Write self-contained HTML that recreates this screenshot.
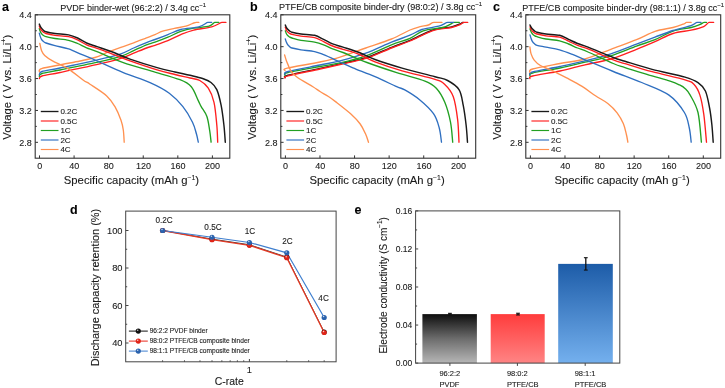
<!DOCTYPE html>
<html><head><meta charset="utf-8"><style>
html,body{margin:0;padding:0;background:#fff;}
svg{display:block;filter:blur(0.3px);}
text{font-family:"Liberation Sans",sans-serif;stroke:#1a1a1a;stroke-width:0.1px;}
</style></head><body>
<svg width="725" height="388" viewBox="0 0 725 388">
<rect width="725" height="388" fill="#fff"/>
<path d="M39.30 78.60 C39.75 78.17 38.55 77.02 42.00 76.00 C45.45 74.98 50.92 74.38 60.00 72.50 C69.08 70.62 86.37 67.05 96.50 64.70 C106.63 62.35 114.60 60.32 120.80 58.40 C127.00 56.48 129.42 54.93 133.70 53.20 C137.98 51.47 142.95 49.32 146.50 48.00 C150.05 46.68 151.43 46.53 155.00 45.30 C158.57 44.07 163.60 42.38 167.90 40.60 C172.20 38.82 176.50 36.35 180.80 34.60 C185.10 32.85 188.55 31.38 193.70 30.10 C198.85 28.82 206.98 28.18 211.70 26.90 C216.42 25.62 220.70 22.40 222.00 22.40 C223.30 22.40 224.60 22.40 225.90 22.40" fill="none" stroke="#ff1f1f" stroke-width="1.35" stroke-linejoin="round" stroke-linecap="round"/>
<path d="M39.30 76.30 C39.75 75.83 38.55 74.55 42.00 73.50 C45.45 72.45 50.92 71.85 60.00 70.00 C69.08 68.15 86.37 64.67 96.50 62.40 C106.63 60.13 114.60 58.37 120.80 56.40 C127.00 54.43 129.42 52.53 133.70 50.60 C137.98 48.67 142.95 46.20 146.50 44.80 C150.05 43.40 151.43 43.47 155.00 42.20 C158.57 40.93 163.60 39.00 167.90 37.20 C172.20 35.40 176.50 32.90 180.80 31.40 C185.10 29.90 188.98 29.07 193.70 28.20 C198.42 27.33 205.57 27.17 209.10 26.20 C212.63 25.23 213.60 22.40 214.90 22.40 C216.20 22.40 217.50 22.40 218.80 22.40" fill="none" stroke="#22a022" stroke-width="1.35" stroke-linejoin="round" stroke-linecap="round"/>
<path d="M39.30 74.80 C39.75 74.25 38.55 72.63 42.00 71.50 C45.45 70.37 50.92 69.90 60.00 68.00 C69.08 66.10 86.37 62.47 96.50 60.10 C106.63 57.73 114.60 55.82 120.80 53.80 C127.00 51.78 129.42 49.85 133.70 48.00 C137.98 46.15 142.95 44.12 146.50 42.70 C150.05 41.28 151.43 40.85 155.00 39.50 C158.57 38.15 163.60 36.27 167.90 34.60 C172.20 32.93 175.65 30.78 180.80 29.50 C185.95 28.22 194.30 28.08 198.80 26.90 C203.30 25.72 206.50 22.40 207.80 22.40 C209.10 22.40 210.40 22.40 211.70 22.40" fill="none" stroke="#2f6fc0" stroke-width="1.35" stroke-linejoin="round" stroke-linecap="round"/>
<path d="M39.30 71.70 C39.68 71.18 37.82 69.80 41.60 68.60 C45.38 67.40 55.60 65.77 62.00 64.50 C68.40 63.23 74.50 62.17 80.00 61.00 C85.50 59.83 90.35 58.97 95.00 57.50 C99.65 56.03 103.60 53.88 107.90 52.20 C112.20 50.52 116.50 48.95 120.80 47.40 C125.10 45.85 129.42 44.48 133.70 42.90 C137.98 41.32 142.95 39.28 146.50 37.90 C150.05 36.52 152.30 35.72 155.00 34.60 C157.70 33.48 159.48 32.23 162.70 31.20 C165.92 30.17 170.43 29.23 174.30 28.40 C178.17 27.57 182.67 27.10 185.90 26.20 C189.13 25.30 191.93 23.63 193.70 23.00 C195.47 22.37 195.73 22.40 196.50 22.40 C197.27 22.40 198.03 22.40 198.80 22.40" fill="none" stroke="#ff9150" stroke-width="1.35" stroke-linejoin="round" stroke-linecap="round"/>
<path d="M39.80 43.40 C40.10 44.63 40.78 48.78 41.60 50.80 C42.42 52.82 42.88 53.82 44.70 55.50 C46.52 57.18 48.63 58.72 52.50 60.90 C56.37 63.08 62.75 65.38 67.90 68.60 C73.05 71.82 79.72 77.60 83.40 80.20 C87.08 82.80 86.12 81.58 90.00 84.20 C93.88 86.82 102.52 92.13 106.70 95.90 C110.88 99.67 112.72 102.75 115.10 106.80 C117.48 110.85 119.63 116.33 121.00 120.20 C122.37 124.07 122.77 126.33 123.30 130.00 C123.83 133.67 124.05 140.17 124.20 142.20" fill="none" stroke="#ff9150" stroke-width="1.35" stroke-linejoin="round" stroke-linecap="round"/>
<path d="M39.30 33.10 C39.47 33.68 39.93 35.55 40.30 36.60 C40.67 37.65 40.97 38.58 41.50 39.40 C42.03 40.22 42.75 40.90 43.50 41.50 C44.25 42.10 44.08 42.30 46.00 43.00 C47.92 43.70 51.23 44.72 55.00 45.70 C58.77 46.68 64.08 47.40 68.60 48.90 C73.12 50.40 77.70 52.85 82.10 54.70 C86.50 56.55 88.13 57.02 95.00 60.00 C101.87 62.98 114.13 68.83 123.30 72.60 C132.47 76.37 142.33 79.17 150.00 82.60 C157.67 86.03 163.82 89.18 169.30 93.20 C174.78 97.22 179.03 101.87 182.90 106.70 C186.77 111.53 190.25 117.68 192.50 122.20 C194.75 126.72 195.43 130.47 196.40 133.80 C197.37 137.13 197.98 140.80 198.30 142.20" fill="none" stroke="#2f6fc0" stroke-width="1.35" stroke-linejoin="round" stroke-linecap="round"/>
<path d="M39.30 28.60 C39.47 29.10 39.93 30.77 40.30 31.60 C40.67 32.43 40.97 32.95 41.50 33.60 C42.03 34.25 42.75 34.98 43.50 35.50 C44.25 36.02 44.08 36.20 46.00 36.70 C47.92 37.20 51.23 37.90 55.00 38.50 C58.77 39.10 64.83 39.47 68.60 40.30 C72.37 41.13 74.60 42.25 77.60 43.50 C80.60 44.75 83.37 46.45 86.60 47.80 C89.83 49.15 90.88 49.12 97.00 51.60 C103.12 54.08 114.18 59.43 123.30 62.70 C132.42 65.97 142.25 68.37 151.70 71.20 C161.15 74.03 173.40 77.12 180.00 79.70 C186.60 82.28 188.23 83.17 191.30 86.70 C194.37 90.23 196.75 97.58 198.40 100.90 C200.05 104.22 199.78 104.00 201.20 106.60 C202.62 109.20 205.48 112.48 206.90 116.50 C208.32 120.52 209.00 126.42 209.70 130.70 C210.40 134.98 210.87 140.28 211.10 142.20" fill="none" stroke="#22a022" stroke-width="1.35" stroke-linejoin="round" stroke-linecap="round"/>
<path d="M39.30 25.90 C39.47 26.35 39.93 27.87 40.30 28.60 C40.67 29.33 40.97 29.70 41.50 30.30 C42.03 30.90 42.75 31.67 43.50 32.20 C44.25 32.73 44.08 32.98 46.00 33.50 C47.92 34.02 51.23 34.77 55.00 35.30 C58.77 35.83 64.83 35.93 68.60 36.70 C72.37 37.47 74.60 38.55 77.60 39.90 C80.60 41.25 83.37 43.38 86.60 44.80 C89.83 46.22 92.80 46.90 97.00 48.40 C101.20 49.90 106.30 51.72 111.80 53.80 C117.30 55.88 122.45 58.22 130.00 60.90 C137.55 63.58 149.60 67.63 157.10 69.90 C164.60 72.17 169.52 73.15 175.00 74.50 C180.48 75.85 185.87 77.00 190.00 78.00 C194.13 79.00 196.75 78.80 199.80 80.50 C202.85 82.20 205.93 84.57 208.30 88.20 C210.67 91.83 212.58 96.17 214.00 102.30 C215.42 108.43 216.18 118.35 216.80 125.00 C217.42 131.65 217.55 139.33 217.70 142.20" fill="none" stroke="#ff1f1f" stroke-width="1.35" stroke-linejoin="round" stroke-linecap="round"/>
<path d="M39.30 24.10 C39.47 24.47 39.93 25.63 40.30 26.30 C40.67 26.97 40.97 27.45 41.50 28.10 C42.03 28.75 42.75 29.60 43.50 30.20 C44.25 30.80 44.08 31.15 46.00 31.70 C47.92 32.25 51.23 32.97 55.00 33.50 C58.77 34.03 64.83 34.15 68.60 34.90 C72.37 35.65 74.60 36.65 77.60 38.00 C80.60 39.35 83.37 41.57 86.60 43.00 C89.83 44.43 92.80 45.13 97.00 46.60 C101.20 48.07 106.30 49.72 111.80 51.80 C117.30 53.88 122.45 56.47 130.00 59.10 C137.55 61.73 149.60 65.45 157.10 67.60 C164.60 69.75 169.52 70.72 175.00 72.00 C180.48 73.28 185.40 74.22 190.00 75.30 C194.60 76.38 199.10 77.30 202.60 78.50 C206.10 79.70 208.63 80.65 211.00 82.50 C213.37 84.35 215.12 85.82 216.80 89.60 C218.48 93.38 219.92 99.30 221.10 105.20 C222.28 111.10 223.20 118.83 223.90 125.00 C224.60 131.17 225.07 139.33 225.30 142.20" fill="none" stroke="#1a1a1a" stroke-width="1.45" stroke-linejoin="round" stroke-linecap="round"/>
<rect x="35.20" y="14.80" width="194.60" height="143.40" fill="none" stroke="#333" stroke-width="1.1"/>
<line x1="35.20" y1="14.80" x2="38.00" y2="14.80" stroke="#333" stroke-width="1"/>
<text x="31.80" y="18.00" font-size="9.00" text-anchor="end" font-weight="normal" fill="#1a1a1a" >4.4</text>
<line x1="35.20" y1="30.74" x2="36.80" y2="30.74" stroke="#333" stroke-width="1"/>
<line x1="35.20" y1="46.68" x2="38.00" y2="46.68" stroke="#333" stroke-width="1"/>
<text x="31.80" y="49.88" font-size="9.00" text-anchor="end" font-weight="normal" fill="#1a1a1a" >4.0</text>
<line x1="35.20" y1="62.62" x2="36.80" y2="62.62" stroke="#333" stroke-width="1"/>
<line x1="35.20" y1="78.56" x2="38.00" y2="78.56" stroke="#333" stroke-width="1"/>
<text x="31.80" y="81.76" font-size="9.00" text-anchor="end" font-weight="normal" fill="#1a1a1a" >3.6</text>
<line x1="35.20" y1="94.50" x2="36.80" y2="94.50" stroke="#333" stroke-width="1"/>
<line x1="35.20" y1="110.44" x2="38.00" y2="110.44" stroke="#333" stroke-width="1"/>
<text x="31.80" y="113.64" font-size="9.00" text-anchor="end" font-weight="normal" fill="#1a1a1a" >3.2</text>
<line x1="35.20" y1="126.38" x2="36.80" y2="126.38" stroke="#333" stroke-width="1"/>
<line x1="35.20" y1="142.32" x2="38.00" y2="142.32" stroke="#333" stroke-width="1"/>
<text x="31.80" y="145.52" font-size="9.00" text-anchor="end" font-weight="normal" fill="#1a1a1a" >2.8</text>
<line x1="39.50" y1="158.20" x2="39.50" y2="155.40" stroke="#333" stroke-width="1"/>
<text x="39.70" y="168.80" font-size="9.00" text-anchor="middle" font-weight="normal" fill="#1a1a1a" >0</text>
<line x1="74.08" y1="158.20" x2="74.08" y2="155.40" stroke="#333" stroke-width="1"/>
<text x="74.28" y="168.80" font-size="9.00" text-anchor="middle" font-weight="normal" fill="#1a1a1a" >40</text>
<line x1="108.66" y1="158.20" x2="108.66" y2="155.40" stroke="#333" stroke-width="1"/>
<text x="108.86" y="168.80" font-size="9.00" text-anchor="middle" font-weight="normal" fill="#1a1a1a" >80</text>
<line x1="143.24" y1="158.20" x2="143.24" y2="155.40" stroke="#333" stroke-width="1"/>
<text x="143.44" y="168.80" font-size="9.00" text-anchor="middle" font-weight="normal" fill="#1a1a1a" >120</text>
<line x1="177.82" y1="158.20" x2="177.82" y2="155.40" stroke="#333" stroke-width="1"/>
<text x="178.02" y="168.80" font-size="9.00" text-anchor="middle" font-weight="normal" fill="#1a1a1a" >160</text>
<line x1="212.40" y1="158.20" x2="212.40" y2="155.40" stroke="#333" stroke-width="1"/>
<text x="212.60" y="168.80" font-size="9.00" text-anchor="middle" font-weight="normal" fill="#1a1a1a" >200</text>
<text x="63.80" y="184.40" font-size="10.80" text-anchor="start" font-weight="normal" fill="#1a1a1a"  textLength="135.30" lengthAdjust="spacingAndGlyphs">Specific capacity (mAh g<tspan dy="-4.3" font-size="6.6">&#8722;1</tspan><tspan dy="4.3">)</tspan></text>
<text transform="translate(10.50,87.30) rotate(-90)" font-size="10.2" text-anchor="middle" fill="#1a1a1a" textLength="105" lengthAdjust="spacingAndGlyphs">Voltage ( V vs. Li/Li<tspan dy="-4.8" font-size="6.4">+</tspan><tspan dy="4.8">)</tspan></text>
<text x="60.30" y="11.20" font-size="8.6" fill="#1a1a1a" textLength="145.80" lengthAdjust="spacingAndGlyphs">PVDF binder-wet (96:2:2) / 3.4g cc<tspan dy="-4.0" font-size="5.6">&#8722;1</tspan></text>
<text x="2.00" y="10.60" font-size="12.50" text-anchor="start" font-weight="bold" fill="#000" >a</text>
<line x1="40.80" y1="111.50" x2="58.50" y2="111.50" stroke="#1a1a1a" stroke-width="1.35"/>
<text x="60.40" y="114.30" font-size="8.00" text-anchor="start" font-weight="normal" fill="#1a1a1a" >0.2C</text>
<line x1="40.80" y1="121.00" x2="58.50" y2="121.00" stroke="#ff1f1f" stroke-width="1.15"/>
<text x="60.40" y="123.80" font-size="8.00" text-anchor="start" font-weight="normal" fill="#1a1a1a" >0.5C</text>
<line x1="40.80" y1="130.50" x2="58.50" y2="130.50" stroke="#22a022" stroke-width="1.15"/>
<text x="60.40" y="133.30" font-size="8.00" text-anchor="start" font-weight="normal" fill="#1a1a1a" >1C</text>
<line x1="40.80" y1="140.00" x2="58.50" y2="140.00" stroke="#2f6fc0" stroke-width="1.15"/>
<text x="60.40" y="142.80" font-size="8.00" text-anchor="start" font-weight="normal" fill="#1a1a1a" >2C</text>
<line x1="40.80" y1="149.50" x2="58.50" y2="149.50" stroke="#ff9150" stroke-width="1.15"/>
<text x="60.40" y="152.30" font-size="8.00" text-anchor="start" font-weight="normal" fill="#1a1a1a" >4C</text>
<path d="M285.00 77.40 C285.50 77.03 282.17 76.70 288.00 75.20 C293.83 73.70 311.33 70.28 320.00 68.40 C328.67 66.52 332.37 65.67 340.00 63.90 C347.63 62.13 357.22 60.55 365.80 57.80 C374.38 55.05 384.13 50.30 391.50 47.40 C398.87 44.50 403.22 43.27 410.00 40.40 C416.78 37.53 425.28 32.45 432.20 30.20 C439.12 27.95 446.77 27.98 451.50 26.90 C456.23 25.82 458.75 24.45 460.60 23.70 C462.45 22.95 462.37 22.40 462.60 22.40 C462.83 22.40 463.07 22.40 463.30 22.40" fill="none" stroke="#1a1a1a" stroke-width="1.45" stroke-linejoin="round" stroke-linecap="round"/>
<path d="M285.00 78.00 C285.50 77.63 282.17 77.30 288.00 75.80 C293.83 74.30 311.33 70.88 320.00 69.00 C328.67 67.12 332.37 66.27 340.00 64.50 C347.63 62.73 357.22 61.15 365.80 58.40 C374.38 55.65 384.13 50.90 391.50 48.00 C398.87 45.10 403.22 43.87 410.00 41.00 C416.78 38.13 425.28 33.05 432.20 30.80 C439.12 28.55 446.77 28.58 451.50 27.50 C456.23 26.42 458.55 25.15 460.60 24.30 C462.65 23.45 462.50 22.40 463.80 22.40 C465.10 22.40 466.40 22.40 467.70 22.40" fill="none" stroke="#ff1f1f" stroke-width="1.35" stroke-linejoin="round" stroke-linecap="round"/>
<path d="M285.00 75.30 C285.50 74.83 282.17 73.97 288.00 72.50 C293.83 71.03 311.33 68.10 320.00 66.50 C328.67 64.90 332.37 64.68 340.00 62.90 C347.63 61.12 357.22 58.82 365.80 55.80 C374.38 52.78 384.13 47.70 391.50 44.80 C398.87 41.90 404.72 40.73 410.00 38.40 C415.28 36.07 417.78 32.62 423.20 30.80 C428.62 28.98 437.98 28.58 442.50 27.50 C447.02 26.42 448.37 25.15 450.30 24.30 C452.23 23.45 452.37 22.40 454.10 22.40 C455.83 22.40 457.57 22.40 459.30 22.40" fill="none" stroke="#22a022" stroke-width="1.35" stroke-linejoin="round" stroke-linecap="round"/>
<path d="M285.00 74.20 C285.52 73.75 282.27 73.03 288.10 71.50 C293.93 69.97 311.35 66.77 320.00 65.00 C328.65 63.23 332.37 62.87 340.00 60.90 C347.63 58.93 357.22 56.32 365.80 53.20 C374.38 50.08 384.13 45.20 391.50 42.20 C398.87 39.20 404.93 37.32 410.00 35.20 C415.07 33.08 417.12 31.00 421.90 29.50 C426.68 28.00 434.40 27.38 438.70 26.20 C443.00 25.02 445.77 22.40 447.70 22.40 C449.63 22.40 451.57 22.40 453.50 22.40" fill="none" stroke="#2f6fc0" stroke-width="1.35" stroke-linejoin="round" stroke-linecap="round"/>
<path d="M285.00 70.50 C285.37 70.12 281.37 69.62 287.20 68.20 C293.03 66.78 311.20 63.85 320.00 62.00 C328.80 60.15 332.37 59.43 340.00 57.10 C347.63 54.77 357.22 51.02 365.80 48.00 C374.38 44.98 384.13 42.00 391.50 39.00 C398.87 36.00 405.37 32.02 410.00 30.00 C414.63 27.98 416.23 27.73 419.30 26.90 C422.37 26.07 425.93 25.75 428.40 25.00 C430.87 24.25 431.50 22.40 434.10 22.40 C436.70 22.40 439.30 22.40 441.90 22.40" fill="none" stroke="#ff9150" stroke-width="1.35" stroke-linejoin="round" stroke-linecap="round"/>
<path d="M284.60 55.00 C284.88 55.92 285.70 58.82 286.30 60.50 C286.90 62.18 287.37 63.27 288.20 65.10 C289.03 66.93 289.75 69.43 291.30 71.50 C292.85 73.57 293.90 74.97 297.50 77.50 C301.10 80.03 309.15 84.37 312.90 86.70 C316.65 89.03 317.42 89.87 320.00 91.50 C322.58 93.13 325.82 94.82 328.40 96.50 C330.98 98.18 331.75 98.68 335.50 101.60 C339.25 104.52 346.78 110.27 350.90 114.00 C355.02 117.73 357.75 120.67 360.20 124.00 C362.65 127.33 364.22 130.95 365.60 134.00 C366.98 137.05 368.02 140.92 368.50 142.30" fill="none" stroke="#ff9150" stroke-width="1.35" stroke-linejoin="round" stroke-linecap="round"/>
<path d="M285.30 39.00 C285.47 39.50 285.93 41.10 286.30 42.00 C286.67 42.90 286.97 43.65 287.50 44.40 C288.03 45.15 288.75 45.90 289.50 46.50 C290.25 47.10 290.08 47.45 292.00 48.00 C293.92 48.55 297.23 49.20 301.00 49.80 C304.77 50.40 310.83 50.78 314.60 51.60 C318.37 52.42 319.37 52.97 323.60 54.70 C327.83 56.43 335.12 59.82 340.00 62.00 C344.88 64.18 347.07 65.35 352.90 67.80 C358.73 70.25 367.70 73.55 375.00 76.70 C382.30 79.85 391.73 84.50 396.70 86.70 C401.67 88.90 401.03 87.77 404.80 89.90 C408.57 92.03 414.52 95.53 419.30 99.50 C424.08 103.47 430.18 108.98 433.50 113.70 C436.82 118.42 437.87 123.05 439.20 127.80 C440.53 132.55 441.12 139.80 441.50 142.20" fill="none" stroke="#2f6fc0" stroke-width="1.35" stroke-linejoin="round" stroke-linecap="round"/>
<path d="M285.30 30.80 C285.47 31.25 285.93 32.75 286.30 33.50 C286.67 34.25 286.97 34.72 287.50 35.30 C288.03 35.88 288.75 36.55 289.50 37.00 C290.25 37.45 290.08 37.45 292.00 38.00 C293.92 38.55 297.23 39.62 301.00 40.30 C304.77 40.98 310.83 41.35 314.60 42.10 C318.37 42.85 320.60 43.68 323.60 44.80 C326.60 45.92 329.37 47.52 332.60 48.80 C335.83 50.08 337.27 50.22 343.00 52.50 C348.73 54.78 358.05 59.15 367.00 62.50 C375.95 65.85 387.03 69.50 396.70 72.60 C406.37 75.70 418.40 78.50 425.00 81.10 C431.60 83.70 433.00 84.67 436.30 88.20 C439.60 91.73 442.43 96.63 444.80 102.30 C447.17 107.97 449.18 115.55 450.50 122.20 C451.82 128.85 452.33 138.87 452.70 142.20" fill="none" stroke="#22a022" stroke-width="1.35" stroke-linejoin="round" stroke-linecap="round"/>
<path d="M285.30 27.20 C285.47 27.67 285.93 29.23 286.30 30.00 C286.67 30.77 286.97 31.25 287.50 31.80 C288.03 32.35 288.75 32.87 289.50 33.30 C290.25 33.73 290.08 33.92 292.00 34.40 C293.92 34.88 297.23 35.67 301.00 36.20 C304.77 36.73 310.83 36.68 314.60 37.60 C318.37 38.52 320.60 40.30 323.60 41.70 C326.60 43.10 329.37 44.73 332.60 46.00 C335.83 47.27 338.55 47.88 343.00 49.30 C347.45 50.72 353.97 52.42 359.30 54.50 C364.63 56.58 367.87 59.08 375.00 61.80 C382.13 64.52 392.10 67.87 402.10 70.80 C412.10 73.73 427.88 77.12 435.00 79.40 C442.12 81.68 441.75 81.62 444.80 84.50 C447.85 87.38 451.17 90.90 453.30 96.70 C455.43 102.50 456.65 111.72 457.60 119.30 C458.55 126.88 458.77 138.38 459.00 142.20" fill="none" stroke="#ff1f1f" stroke-width="1.35" stroke-linejoin="round" stroke-linecap="round"/>
<path d="M285.30 25.00 C285.47 25.38 285.93 26.63 286.30 27.30 C286.67 27.97 286.97 28.40 287.50 29.00 C288.03 29.60 288.75 30.37 289.50 30.90 C290.25 31.43 290.08 31.68 292.00 32.20 C293.92 32.72 297.23 33.48 301.00 34.00 C304.77 34.52 310.83 34.40 314.60 35.30 C318.37 36.20 320.60 37.97 323.60 39.40 C326.60 40.83 329.37 42.62 332.60 43.90 C335.83 45.18 338.55 45.67 343.00 47.10 C347.45 48.53 353.97 50.43 359.30 52.50 C364.63 54.57 367.87 56.90 375.00 59.50 C382.13 62.10 392.10 65.23 402.10 68.10 C412.10 70.97 427.42 74.63 435.00 76.70 C442.58 78.77 443.60 78.35 447.60 80.50 C451.60 82.65 456.40 85.48 459.00 89.60 C461.60 93.72 462.02 99.30 463.20 105.20 C464.38 111.10 465.38 118.83 466.10 125.00 C466.82 131.17 467.27 139.33 467.50 142.20" fill="none" stroke="#1a1a1a" stroke-width="1.45" stroke-linejoin="round" stroke-linecap="round"/>
<rect x="280.80" y="14.80" width="194.90" height="143.40" fill="none" stroke="#333" stroke-width="1.1"/>
<line x1="280.80" y1="14.80" x2="283.60" y2="14.80" stroke="#333" stroke-width="1"/>
<text x="277.40" y="18.00" font-size="9.00" text-anchor="end" font-weight="normal" fill="#1a1a1a" >4.4</text>
<line x1="280.80" y1="30.74" x2="282.40" y2="30.74" stroke="#333" stroke-width="1"/>
<line x1="280.80" y1="46.68" x2="283.60" y2="46.68" stroke="#333" stroke-width="1"/>
<text x="277.40" y="49.88" font-size="9.00" text-anchor="end" font-weight="normal" fill="#1a1a1a" >4.0</text>
<line x1="280.80" y1="62.62" x2="282.40" y2="62.62" stroke="#333" stroke-width="1"/>
<line x1="280.80" y1="78.56" x2="283.60" y2="78.56" stroke="#333" stroke-width="1"/>
<text x="277.40" y="81.76" font-size="9.00" text-anchor="end" font-weight="normal" fill="#1a1a1a" >3.6</text>
<line x1="280.80" y1="94.50" x2="282.40" y2="94.50" stroke="#333" stroke-width="1"/>
<line x1="280.80" y1="110.44" x2="283.60" y2="110.44" stroke="#333" stroke-width="1"/>
<text x="277.40" y="113.64" font-size="9.00" text-anchor="end" font-weight="normal" fill="#1a1a1a" >3.2</text>
<line x1="280.80" y1="126.38" x2="282.40" y2="126.38" stroke="#333" stroke-width="1"/>
<line x1="280.80" y1="142.32" x2="283.60" y2="142.32" stroke="#333" stroke-width="1"/>
<text x="277.40" y="145.52" font-size="9.00" text-anchor="end" font-weight="normal" fill="#1a1a1a" >2.8</text>
<line x1="285.40" y1="158.20" x2="285.40" y2="155.40" stroke="#333" stroke-width="1"/>
<text x="285.60" y="168.80" font-size="9.00" text-anchor="middle" font-weight="normal" fill="#1a1a1a" >0</text>
<line x1="319.98" y1="158.20" x2="319.98" y2="155.40" stroke="#333" stroke-width="1"/>
<text x="320.18" y="168.80" font-size="9.00" text-anchor="middle" font-weight="normal" fill="#1a1a1a" >40</text>
<line x1="354.56" y1="158.20" x2="354.56" y2="155.40" stroke="#333" stroke-width="1"/>
<text x="354.76" y="168.80" font-size="9.00" text-anchor="middle" font-weight="normal" fill="#1a1a1a" >80</text>
<line x1="389.14" y1="158.20" x2="389.14" y2="155.40" stroke="#333" stroke-width="1"/>
<text x="389.34" y="168.80" font-size="9.00" text-anchor="middle" font-weight="normal" fill="#1a1a1a" >120</text>
<line x1="423.72" y1="158.20" x2="423.72" y2="155.40" stroke="#333" stroke-width="1"/>
<text x="423.92" y="168.80" font-size="9.00" text-anchor="middle" font-weight="normal" fill="#1a1a1a" >160</text>
<line x1="458.30" y1="158.20" x2="458.30" y2="155.40" stroke="#333" stroke-width="1"/>
<text x="458.50" y="168.80" font-size="9.00" text-anchor="middle" font-weight="normal" fill="#1a1a1a" >200</text>
<text x="309.40" y="184.40" font-size="10.80" text-anchor="start" font-weight="normal" fill="#1a1a1a"  textLength="135.30" lengthAdjust="spacingAndGlyphs">Specific capacity (mAh g<tspan dy="-4.3" font-size="6.6">&#8722;1</tspan><tspan dy="4.3">)</tspan></text>
<text transform="translate(256.10,87.30) rotate(-90)" font-size="10.2" text-anchor="middle" fill="#1a1a1a" textLength="105" lengthAdjust="spacingAndGlyphs">Voltage ( V vs. Li/Li<tspan dy="-4.8" font-size="6.4">+</tspan><tspan dy="4.8">)</tspan></text>
<text x="279.00" y="9.80" font-size="8.6" fill="#1a1a1a" textLength="203.00" lengthAdjust="spacingAndGlyphs">PTFE/CB composite binder-dry (98:0:2) / 3.8g cc<tspan dy="-4.0" font-size="5.6">&#8722;1</tspan></text>
<text x="250.00" y="10.60" font-size="12.50" text-anchor="start" font-weight="bold" fill="#000" >b</text>
<line x1="286.40" y1="111.50" x2="304.10" y2="111.50" stroke="#1a1a1a" stroke-width="1.35"/>
<text x="306.00" y="114.30" font-size="8.00" text-anchor="start" font-weight="normal" fill="#1a1a1a" >0.2C</text>
<line x1="286.40" y1="121.00" x2="304.10" y2="121.00" stroke="#ff1f1f" stroke-width="1.15"/>
<text x="306.00" y="123.80" font-size="8.00" text-anchor="start" font-weight="normal" fill="#1a1a1a" >0.5C</text>
<line x1="286.40" y1="130.50" x2="304.10" y2="130.50" stroke="#22a022" stroke-width="1.15"/>
<text x="306.00" y="133.30" font-size="8.00" text-anchor="start" font-weight="normal" fill="#1a1a1a" >1C</text>
<line x1="286.40" y1="140.00" x2="304.10" y2="140.00" stroke="#2f6fc0" stroke-width="1.15"/>
<text x="306.00" y="142.80" font-size="8.00" text-anchor="start" font-weight="normal" fill="#1a1a1a" >2C</text>
<line x1="286.40" y1="149.50" x2="304.10" y2="149.50" stroke="#ff9150" stroke-width="1.15"/>
<text x="306.00" y="152.30" font-size="8.00" text-anchor="start" font-weight="normal" fill="#1a1a1a" >4C</text>
<path d="M529.90 78.60 C530.35 78.17 527.58 77.27 532.60 76.00 C537.62 74.73 551.27 72.87 560.00 71.00 C568.73 69.13 576.53 66.80 585.00 64.80 C593.47 62.80 602.22 61.58 610.80 59.00 C619.38 56.42 629.13 52.20 636.50 49.30 C643.87 46.40 648.92 44.23 655.00 41.60 C661.08 38.97 666.98 35.40 673.00 33.50 C679.02 31.60 685.98 31.35 691.10 30.20 C696.22 29.05 700.70 27.90 703.70 26.60 C706.70 25.30 707.60 22.40 709.10 22.40 C710.60 22.40 712.10 22.40 713.60 22.40" fill="none" stroke="#ff1f1f" stroke-width="1.35" stroke-linejoin="round" stroke-linecap="round"/>
<path d="M530.00 75.90 C530.43 75.42 527.60 74.32 532.60 73.00 C537.60 71.68 551.27 69.80 560.00 68.00 C568.73 66.20 576.53 64.23 585.00 62.20 C593.47 60.17 602.22 58.48 610.80 55.80 C619.38 53.12 629.13 48.78 636.50 46.10 C643.87 43.42 648.92 42.20 655.00 39.70 C661.08 37.20 666.98 33.13 673.00 31.10 C679.02 29.07 686.43 28.68 691.10 27.50 C695.77 26.32 698.85 24.85 701.00 24.00 C703.15 23.15 703.20 22.40 704.00 22.40 C704.80 22.40 705.60 22.40 706.40 22.40" fill="none" stroke="#22a022" stroke-width="1.35" stroke-linejoin="round" stroke-linecap="round"/>
<path d="M529.90 74.80 C530.35 74.33 527.58 73.38 532.60 72.00 C537.62 70.62 551.27 68.35 560.00 66.50 C568.73 64.65 576.53 63.02 585.00 60.90 C593.47 58.78 602.22 56.58 610.80 53.80 C619.38 51.02 629.13 46.98 636.50 44.20 C643.87 41.42 648.92 39.38 655.00 37.10 C661.08 34.82 667.00 32.40 673.00 30.50 C679.00 28.60 687.00 27.05 691.00 25.70 C695.00 24.35 695.67 22.40 697.00 22.40 C698.33 22.40 699.67 22.40 701.00 22.40" fill="none" stroke="#2f6fc0" stroke-width="1.35" stroke-linejoin="round" stroke-linecap="round"/>
<path d="M529.90 72.50 C530.35 71.92 527.58 70.50 532.60 69.00 C537.62 67.50 551.27 65.17 560.00 63.50 C568.73 61.83 576.53 61.37 585.00 59.00 C593.47 56.63 602.22 52.52 610.80 49.30 C619.38 46.08 629.13 42.70 636.50 39.70 C643.87 36.70 648.92 33.33 655.00 31.30 C661.08 29.27 668.18 28.73 673.00 27.50 C677.82 26.27 681.63 24.75 683.90 23.90 C686.17 23.05 685.10 22.40 686.60 22.40 C688.10 22.40 689.60 22.40 691.10 22.40" fill="none" stroke="#ff9150" stroke-width="1.35" stroke-linejoin="round" stroke-linecap="round"/>
<path d="M529.90 47.00 C530.10 48.15 530.38 51.72 531.10 53.90 C531.82 56.08 532.65 58.17 534.20 60.10 C535.75 62.03 537.57 63.83 540.40 65.50 C543.23 67.17 546.83 68.03 551.20 70.10 C555.57 72.17 561.45 75.18 566.60 77.90 C571.75 80.62 577.28 83.42 582.10 86.40 C586.92 89.38 591.22 92.95 595.50 95.80 C599.78 98.65 604.20 100.67 607.80 103.50 C611.40 106.33 614.52 109.45 617.10 112.80 C619.68 116.15 621.75 119.98 623.30 123.60 C624.85 127.22 625.63 131.40 626.40 134.50 C627.17 137.60 627.65 140.92 627.90 142.20" fill="none" stroke="#ff9150" stroke-width="1.35" stroke-linejoin="round" stroke-linecap="round"/>
<path d="M530.00 34.90 C530.20 35.55 530.78 37.67 531.20 38.80 C531.62 39.93 531.95 40.87 532.50 41.70 C533.05 42.53 533.75 43.20 534.50 43.80 C535.25 44.40 535.08 44.75 537.00 45.30 C538.92 45.85 542.23 46.35 546.00 47.10 C549.77 47.85 555.08 48.53 559.60 49.80 C564.12 51.07 568.87 53.03 573.10 54.70 C577.33 56.37 578.30 57.00 585.00 59.80 C591.70 62.60 603.85 67.72 613.30 71.50 C622.75 75.28 632.42 78.57 641.70 82.50 C650.98 86.43 661.88 90.10 669.00 95.10 C676.12 100.10 681.02 107.02 684.40 112.50 C687.78 117.98 688.17 123.05 689.30 128.00 C690.43 132.95 690.88 139.83 691.20 142.20" fill="none" stroke="#2f6fc0" stroke-width="1.35" stroke-linejoin="round" stroke-linecap="round"/>
<path d="M530.00 29.00 C530.20 29.50 530.78 31.17 531.20 32.00 C531.62 32.83 531.95 33.38 532.50 34.00 C533.05 34.62 533.75 35.25 534.50 35.70 C535.25 36.15 535.08 36.15 537.00 36.70 C538.92 37.25 542.23 38.32 546.00 39.00 C549.77 39.68 555.83 39.97 559.60 40.80 C563.37 41.63 565.60 42.80 568.60 44.00 C571.60 45.20 574.37 46.67 577.60 48.00 C580.83 49.33 582.05 49.42 588.00 52.00 C593.95 54.58 607.13 60.90 613.30 63.50 C619.47 66.10 618.53 65.55 625.00 67.60 C631.47 69.65 644.58 73.53 652.10 75.80 C659.62 78.07 665.58 79.70 670.10 81.20 C674.62 82.70 676.72 83.60 679.20 84.80 C681.68 86.00 683.17 86.68 685.00 88.40 C686.83 90.12 688.03 91.08 690.20 95.10 C692.37 99.12 696.13 104.65 698.00 112.50 C699.87 120.35 700.83 137.25 701.40 142.20" fill="none" stroke="#22a022" stroke-width="1.35" stroke-linejoin="round" stroke-linecap="round"/>
<path d="M530.00 26.80 C530.20 27.25 530.78 28.75 531.20 29.50 C531.62 30.25 531.95 30.73 532.50 31.30 C533.05 31.87 533.75 32.45 534.50 32.90 C535.25 33.35 535.08 33.52 537.00 34.00 C538.92 34.48 542.23 35.28 546.00 35.80 C549.77 36.32 555.83 36.20 559.60 37.10 C563.37 38.00 565.60 39.82 568.60 41.20 C571.60 42.58 574.37 44.12 577.60 45.40 C580.83 46.68 582.05 46.50 588.00 48.90 C593.95 51.30 607.13 57.35 613.30 59.80 C619.47 62.25 618.53 61.62 625.00 63.60 C631.47 65.58 642.10 69.00 652.10 71.70 C662.10 74.40 678.00 77.67 685.00 79.80 C692.00 81.93 691.62 81.95 694.10 84.50 C696.58 87.05 698.28 90.12 699.90 95.10 C701.52 100.08 702.70 106.55 703.80 114.40 C704.90 122.25 706.05 137.57 706.50 142.20" fill="none" stroke="#ff1f1f" stroke-width="1.35" stroke-linejoin="round" stroke-linecap="round"/>
<path d="M530.00 25.00 C530.20 25.38 530.78 26.63 531.20 27.30 C531.62 27.97 531.95 28.40 532.50 29.00 C533.05 29.60 533.75 30.37 534.50 30.90 C535.25 31.43 535.08 31.68 537.00 32.20 C538.92 32.72 542.23 33.48 546.00 34.00 C549.77 34.52 555.83 34.40 559.60 35.30 C563.37 36.20 565.60 38.03 568.60 39.40 C571.60 40.77 574.37 42.22 577.60 43.50 C580.83 44.78 582.05 44.77 588.00 47.10 C593.95 49.43 607.13 55.13 613.30 57.50 C619.47 59.87 618.53 59.32 625.00 61.30 C631.47 63.28 642.10 66.77 652.10 69.40 C662.10 72.03 677.35 74.90 685.00 77.10 C692.65 79.30 694.60 80.28 698.00 82.60 C701.40 84.92 703.47 86.77 705.40 91.00 C707.33 95.23 708.52 102.33 709.60 108.00 C710.68 113.67 711.30 119.30 711.90 125.00 C712.50 130.70 712.98 139.33 713.20 142.20" fill="none" stroke="#1a1a1a" stroke-width="1.45" stroke-linejoin="round" stroke-linecap="round"/>
<rect x="525.80" y="14.80" width="194.90" height="143.40" fill="none" stroke="#333" stroke-width="1.1"/>
<line x1="525.80" y1="14.80" x2="528.60" y2="14.80" stroke="#333" stroke-width="1"/>
<text x="522.40" y="18.00" font-size="9.00" text-anchor="end" font-weight="normal" fill="#1a1a1a" >4.4</text>
<line x1="525.80" y1="30.74" x2="527.40" y2="30.74" stroke="#333" stroke-width="1"/>
<line x1="525.80" y1="46.68" x2="528.60" y2="46.68" stroke="#333" stroke-width="1"/>
<text x="522.40" y="49.88" font-size="9.00" text-anchor="end" font-weight="normal" fill="#1a1a1a" >4.0</text>
<line x1="525.80" y1="62.62" x2="527.40" y2="62.62" stroke="#333" stroke-width="1"/>
<line x1="525.80" y1="78.56" x2="528.60" y2="78.56" stroke="#333" stroke-width="1"/>
<text x="522.40" y="81.76" font-size="9.00" text-anchor="end" font-weight="normal" fill="#1a1a1a" >3.6</text>
<line x1="525.80" y1="94.50" x2="527.40" y2="94.50" stroke="#333" stroke-width="1"/>
<line x1="525.80" y1="110.44" x2="528.60" y2="110.44" stroke="#333" stroke-width="1"/>
<text x="522.40" y="113.64" font-size="9.00" text-anchor="end" font-weight="normal" fill="#1a1a1a" >3.2</text>
<line x1="525.80" y1="126.38" x2="527.40" y2="126.38" stroke="#333" stroke-width="1"/>
<line x1="525.80" y1="142.32" x2="528.60" y2="142.32" stroke="#333" stroke-width="1"/>
<text x="522.40" y="145.52" font-size="9.00" text-anchor="end" font-weight="normal" fill="#1a1a1a" >2.8</text>
<line x1="530.40" y1="158.20" x2="530.40" y2="155.40" stroke="#333" stroke-width="1"/>
<text x="530.60" y="168.80" font-size="9.00" text-anchor="middle" font-weight="normal" fill="#1a1a1a" >0</text>
<line x1="564.98" y1="158.20" x2="564.98" y2="155.40" stroke="#333" stroke-width="1"/>
<text x="565.18" y="168.80" font-size="9.00" text-anchor="middle" font-weight="normal" fill="#1a1a1a" >40</text>
<line x1="599.56" y1="158.20" x2="599.56" y2="155.40" stroke="#333" stroke-width="1"/>
<text x="599.76" y="168.80" font-size="9.00" text-anchor="middle" font-weight="normal" fill="#1a1a1a" >80</text>
<line x1="634.14" y1="158.20" x2="634.14" y2="155.40" stroke="#333" stroke-width="1"/>
<text x="634.34" y="168.80" font-size="9.00" text-anchor="middle" font-weight="normal" fill="#1a1a1a" >120</text>
<line x1="668.72" y1="158.20" x2="668.72" y2="155.40" stroke="#333" stroke-width="1"/>
<text x="668.92" y="168.80" font-size="9.00" text-anchor="middle" font-weight="normal" fill="#1a1a1a" >160</text>
<line x1="703.30" y1="158.20" x2="703.30" y2="155.40" stroke="#333" stroke-width="1"/>
<text x="703.50" y="168.80" font-size="9.00" text-anchor="middle" font-weight="normal" fill="#1a1a1a" >200</text>
<text x="554.40" y="184.40" font-size="10.80" text-anchor="start" font-weight="normal" fill="#1a1a1a"  textLength="135.30" lengthAdjust="spacingAndGlyphs">Specific capacity (mAh g<tspan dy="-4.3" font-size="6.6">&#8722;1</tspan><tspan dy="4.3">)</tspan></text>
<text transform="translate(501.10,87.30) rotate(-90)" font-size="10.2" text-anchor="middle" fill="#1a1a1a" textLength="105" lengthAdjust="spacingAndGlyphs">Voltage ( V vs. Li/Li<tspan dy="-4.8" font-size="6.4">+</tspan><tspan dy="4.8">)</tspan></text>
<text x="522.30" y="10.60" font-size="8.6" fill="#1a1a1a" textLength="201.80" lengthAdjust="spacingAndGlyphs">PTFE/CB composite binder-dry (98:1:1) / 3.8g cc<tspan dy="-4.0" font-size="5.6">&#8722;1</tspan></text>
<text x="493.00" y="10.60" font-size="12.50" text-anchor="start" font-weight="bold" fill="#000" >c</text>
<line x1="531.40" y1="111.50" x2="549.10" y2="111.50" stroke="#1a1a1a" stroke-width="1.35"/>
<text x="551.00" y="114.30" font-size="8.00" text-anchor="start" font-weight="normal" fill="#1a1a1a" >0.2C</text>
<line x1="531.40" y1="121.00" x2="549.10" y2="121.00" stroke="#ff1f1f" stroke-width="1.15"/>
<text x="551.00" y="123.80" font-size="8.00" text-anchor="start" font-weight="normal" fill="#1a1a1a" >0.5C</text>
<line x1="531.40" y1="130.50" x2="549.10" y2="130.50" stroke="#22a022" stroke-width="1.15"/>
<text x="551.00" y="133.30" font-size="8.00" text-anchor="start" font-weight="normal" fill="#1a1a1a" >1C</text>
<line x1="531.40" y1="140.00" x2="549.10" y2="140.00" stroke="#2f6fc0" stroke-width="1.15"/>
<text x="551.00" y="142.80" font-size="8.00" text-anchor="start" font-weight="normal" fill="#1a1a1a" >2C</text>
<line x1="531.40" y1="149.50" x2="549.10" y2="149.50" stroke="#ff9150" stroke-width="1.15"/>
<text x="551.00" y="152.30" font-size="8.00" text-anchor="start" font-weight="normal" fill="#1a1a1a" >4C</text>
<rect x="125.70" y="211.10" width="210.40" height="150.70" fill="none" stroke="#444" stroke-width="1"/>
<line x1="125.70" y1="343.00" x2="128.50" y2="343.00" stroke="#444" stroke-width="1"/>
<text x="122.50" y="346.30" font-size="9.30" text-anchor="end" font-weight="normal" fill="#1a1a1a" >40</text>
<line x1="125.70" y1="324.25" x2="127.20" y2="324.25" stroke="#444" stroke-width="1"/>
<line x1="125.70" y1="305.50" x2="128.50" y2="305.50" stroke="#444" stroke-width="1"/>
<text x="122.50" y="308.80" font-size="9.30" text-anchor="end" font-weight="normal" fill="#1a1a1a" >60</text>
<line x1="125.70" y1="286.75" x2="127.20" y2="286.75" stroke="#444" stroke-width="1"/>
<line x1="125.70" y1="268.00" x2="128.50" y2="268.00" stroke="#444" stroke-width="1"/>
<text x="122.50" y="271.30" font-size="9.30" text-anchor="end" font-weight="normal" fill="#1a1a1a" >80</text>
<line x1="125.70" y1="249.25" x2="127.20" y2="249.25" stroke="#444" stroke-width="1"/>
<line x1="125.70" y1="230.50" x2="128.50" y2="230.50" stroke="#444" stroke-width="1"/>
<text x="122.50" y="233.80" font-size="9.30" text-anchor="end" font-weight="normal" fill="#1a1a1a" >100</text>
<line x1="162.59" y1="361.80" x2="162.59" y2="360.30" stroke="#444" stroke-width="1"/>
<line x1="184.46" y1="361.80" x2="184.46" y2="360.30" stroke="#444" stroke-width="1"/>
<line x1="199.98" y1="361.80" x2="199.98" y2="360.30" stroke="#444" stroke-width="1"/>
<line x1="212.01" y1="361.80" x2="212.01" y2="360.30" stroke="#444" stroke-width="1"/>
<line x1="221.85" y1="361.80" x2="221.85" y2="360.30" stroke="#444" stroke-width="1"/>
<line x1="230.16" y1="361.80" x2="230.16" y2="360.30" stroke="#444" stroke-width="1"/>
<line x1="237.36" y1="361.80" x2="237.36" y2="360.30" stroke="#444" stroke-width="1"/>
<line x1="243.72" y1="361.80" x2="243.72" y2="360.30" stroke="#444" stroke-width="1"/>
<line x1="249.40" y1="361.80" x2="249.40" y2="359.00" stroke="#444" stroke-width="1"/>
<line x1="286.79" y1="361.80" x2="286.79" y2="360.30" stroke="#444" stroke-width="1"/>
<line x1="308.66" y1="361.80" x2="308.66" y2="360.30" stroke="#444" stroke-width="1"/>
<line x1="324.18" y1="361.80" x2="324.18" y2="360.30" stroke="#444" stroke-width="1"/>
<text x="249.40" y="373.00" font-size="9.30" text-anchor="middle" font-weight="normal" fill="#1a1a1a" >1</text>
<text x="229.30" y="385.20" font-size="10.20" text-anchor="middle" font-weight="normal" fill="#1a1a1a"  textLength="29.00" lengthAdjust="spacingAndGlyphs">C-rate</text>
<text transform="translate(99.20,287.60) rotate(-90)" font-size="10.8" text-anchor="middle" fill="#1a1a1a" textLength="157.5" lengthAdjust="spacingAndGlyphs">Discharge capacity retention (%)</text>
<text x="70.00" y="214.00" font-size="12.50" text-anchor="start" font-weight="bold" fill="#000" >d</text>
<polyline points="162.59,230.50 212.01,239.12 249.40,244.75 286.79,257.12 324.18,332.12" fill="none" stroke="#222" stroke-width="0.90"/>
<polyline points="162.59,230.50 212.01,239.69 249.40,245.31 286.79,257.69 324.18,332.50" fill="none" stroke="#e43a24" stroke-width="1.35"/>
<polyline points="162.59,230.50 212.01,237.25 249.40,242.50 286.79,252.81 324.18,317.50" fill="none" stroke="#3f7fcf" stroke-width="1.20"/>
<circle cx="162.59" cy="230.50" r="2.6" fill="#111"/>
<circle cx="161.99" cy="229.60" r="0.75" fill="#fff" opacity="0.75"/>
<circle cx="212.01" cy="239.12" r="2.6" fill="#111"/>
<circle cx="211.41" cy="238.22" r="0.75" fill="#fff" opacity="0.75"/>
<circle cx="249.40" cy="244.75" r="2.6" fill="#111"/>
<circle cx="248.80" cy="243.85" r="0.75" fill="#fff" opacity="0.75"/>
<circle cx="286.79" cy="257.12" r="2.6" fill="#111"/>
<circle cx="286.19" cy="256.23" r="0.75" fill="#fff" opacity="0.75"/>
<circle cx="324.18" cy="332.12" r="2.6" fill="#111"/>
<circle cx="323.58" cy="331.23" r="0.75" fill="#fff" opacity="0.75"/>
<circle cx="162.59" cy="230.50" r="2.6" fill="#e02418"/>
<circle cx="161.99" cy="229.60" r="0.75" fill="#fff" opacity="0.75"/>
<circle cx="212.01" cy="239.69" r="2.6" fill="#e02418"/>
<circle cx="211.41" cy="238.79" r="0.75" fill="#fff" opacity="0.75"/>
<circle cx="249.40" cy="245.31" r="2.6" fill="#e02418"/>
<circle cx="248.80" cy="244.41" r="0.75" fill="#fff" opacity="0.75"/>
<circle cx="286.79" cy="257.69" r="2.6" fill="#e02418"/>
<circle cx="286.19" cy="256.79" r="0.75" fill="#fff" opacity="0.75"/>
<circle cx="324.18" cy="332.50" r="2.6" fill="#e02418"/>
<circle cx="323.58" cy="331.60" r="0.75" fill="#fff" opacity="0.75"/>
<circle cx="162.59" cy="230.50" r="2.6" fill="#2a62ad"/>
<circle cx="161.99" cy="229.60" r="0.75" fill="#fff" opacity="0.75"/>
<circle cx="212.01" cy="237.25" r="2.6" fill="#2a62ad"/>
<circle cx="211.41" cy="236.35" r="0.75" fill="#fff" opacity="0.75"/>
<circle cx="249.40" cy="242.50" r="2.6" fill="#2a62ad"/>
<circle cx="248.80" cy="241.60" r="0.75" fill="#fff" opacity="0.75"/>
<circle cx="286.79" cy="252.81" r="2.6" fill="#2a62ad"/>
<circle cx="286.19" cy="251.91" r="0.75" fill="#fff" opacity="0.75"/>
<circle cx="324.18" cy="317.50" r="2.6" fill="#2a62ad"/>
<circle cx="323.58" cy="316.60" r="0.75" fill="#fff" opacity="0.75"/>
<text x="164.09" y="223.20" font-size="8.20" text-anchor="middle" font-weight="normal" fill="#1a1a1a" >0.2C</text>
<text x="213.01" y="230.40" font-size="8.20" text-anchor="middle" font-weight="normal" fill="#1a1a1a" >0.5C</text>
<text x="249.90" y="234.20" font-size="8.20" text-anchor="middle" font-weight="normal" fill="#1a1a1a" >1C</text>
<text x="287.49" y="244.00" font-size="8.20" text-anchor="middle" font-weight="normal" fill="#1a1a1a" >2C</text>
<text x="323.58" y="301.30" font-size="8.20" text-anchor="middle" font-weight="normal" fill="#1a1a1a" >4C</text>
<line x1="128.9" y1="331.10" x2="147.8" y2="331.10" stroke="#111" stroke-width="1"/>
<circle cx="138.3" cy="331.10" r="2.6" fill="#111"/>
<circle cx="137.7" cy="330.20" r="0.75" fill="#fff" opacity="0.75"/>
<text x="149.70" y="333.40" font-size="6.60" text-anchor="start" font-weight="normal" fill="#1a1a1a" >96:2:2 PVDF binder</text>
<line x1="128.9" y1="341.10" x2="147.8" y2="341.10" stroke="#e8281c" stroke-width="1"/>
<circle cx="138.3" cy="341.10" r="2.6" fill="#e02418"/>
<circle cx="137.7" cy="340.20" r="0.75" fill="#fff" opacity="0.75"/>
<text x="149.70" y="343.40" font-size="6.60" text-anchor="start" font-weight="normal" fill="#1a1a1a" >98:0:2 PTFE/CB composite binder</text>
<line x1="128.9" y1="351.10" x2="147.8" y2="351.10" stroke="#3f7fcf" stroke-width="1"/>
<circle cx="138.3" cy="351.10" r="2.6" fill="#2a62ad"/>
<circle cx="137.7" cy="350.20" r="0.75" fill="#fff" opacity="0.75"/>
<text x="149.70" y="353.40" font-size="6.60" text-anchor="start" font-weight="normal" fill="#1a1a1a" >98:1:1 PTFE/CB composite binder</text>
<defs>
<linearGradient id="gk" x1="0" y1="0" x2="0" y2="1"><stop offset="0" stop-color="#0e0e0e"/><stop offset="0.5" stop-color="#6c6c6c"/><stop offset="1" stop-color="#b6b6b6"/></linearGradient>
<linearGradient id="gr" x1="0" y1="0" x2="0" y2="1"><stop offset="0" stop-color="#ff3c3c"/><stop offset="1" stop-color="#ff8484"/></linearGradient>
<linearGradient id="gb" x1="0" y1="0" x2="0" y2="1"><stop offset="0" stop-color="#1d5ca8"/><stop offset="1" stop-color="#74b0ee"/></linearGradient>
</defs>
<rect x="422.40" y="314.11" width="54.50" height="48.99" fill="url(#gk)"/>
<line x1="449.95" y1="313.35" x2="449.95" y2="314.87" stroke="#111" stroke-width="1.3"/>
<line x1="448.05" y1="313.35" x2="451.85" y2="313.35" stroke="#111" stroke-width="1.1"/>
<line x1="448.05" y1="314.87" x2="451.85" y2="314.87" stroke="#111" stroke-width="1.1"/>
<rect x="490.70" y="314.11" width="54.00" height="48.99" fill="url(#gr)"/>
<line x1="518.00" y1="313.25" x2="518.00" y2="314.97" stroke="#111" stroke-width="1.3"/>
<line x1="516.10" y1="313.25" x2="519.90" y2="313.25" stroke="#111" stroke-width="1.1"/>
<line x1="516.10" y1="314.97" x2="519.90" y2="314.97" stroke="#111" stroke-width="1.1"/>
<rect x="558.20" y="263.88" width="54.60" height="99.22" fill="url(#gb)"/>
<line x1="585.80" y1="257.70" x2="585.80" y2="270.07" stroke="#111" stroke-width="1.3"/>
<line x1="583.90" y1="257.70" x2="587.70" y2="257.70" stroke="#111" stroke-width="1.1"/>
<line x1="583.90" y1="270.07" x2="587.70" y2="270.07" stroke="#111" stroke-width="1.1"/>
<rect x="415.60" y="210.90" width="204.20" height="152.20" fill="none" stroke="#444" stroke-width="1"/>
<line x1="415.60" y1="363.10" x2="418.20" y2="363.10" stroke="#444" stroke-width="1"/>
<text x="412.30" y="365.70" font-size="8.50" text-anchor="end" font-weight="normal" fill="#1a1a1a" >0.00</text>
<line x1="415.60" y1="344.08" x2="417.10" y2="344.08" stroke="#444" stroke-width="1"/>
<line x1="415.60" y1="325.05" x2="418.20" y2="325.05" stroke="#444" stroke-width="1"/>
<text x="412.30" y="327.65" font-size="8.50" text-anchor="end" font-weight="normal" fill="#1a1a1a" >0.04</text>
<line x1="415.60" y1="306.03" x2="417.10" y2="306.03" stroke="#444" stroke-width="1"/>
<line x1="415.60" y1="287.00" x2="418.20" y2="287.00" stroke="#444" stroke-width="1"/>
<text x="412.30" y="289.60" font-size="8.50" text-anchor="end" font-weight="normal" fill="#1a1a1a" >0.08</text>
<line x1="415.60" y1="267.98" x2="417.10" y2="267.98" stroke="#444" stroke-width="1"/>
<line x1="415.60" y1="248.95" x2="418.20" y2="248.95" stroke="#444" stroke-width="1"/>
<text x="412.30" y="251.55" font-size="8.50" text-anchor="end" font-weight="normal" fill="#1a1a1a" >0.12</text>
<line x1="415.60" y1="229.93" x2="417.10" y2="229.93" stroke="#444" stroke-width="1"/>
<line x1="415.60" y1="210.90" x2="418.20" y2="210.90" stroke="#444" stroke-width="1"/>
<text x="412.30" y="213.50" font-size="8.50" text-anchor="end" font-weight="normal" fill="#1a1a1a" >0.16</text>
<line x1="449.90" y1="363.10" x2="449.90" y2="365.90" stroke="#444" stroke-width="1"/>
<text x="439.40" y="375.50" font-size="7.50" text-anchor="start" font-weight="normal" fill="#1a1a1a" >96:2:2</text>
<text x="439.40" y="386.80" font-size="7.50" text-anchor="start" font-weight="normal" fill="#1a1a1a" >PVDF</text>
<line x1="517.40" y1="363.10" x2="517.40" y2="365.90" stroke="#444" stroke-width="1"/>
<text x="506.90" y="375.50" font-size="7.50" text-anchor="start" font-weight="normal" fill="#1a1a1a" >98:0:2</text>
<text x="506.90" y="386.80" font-size="7.50" text-anchor="start" font-weight="normal" fill="#1a1a1a" >PTFE/CB</text>
<line x1="585.20" y1="363.10" x2="585.20" y2="365.90" stroke="#444" stroke-width="1"/>
<text x="574.70" y="375.50" font-size="7.50" text-anchor="start" font-weight="normal" fill="#1a1a1a" >98:1:1</text>
<text x="574.70" y="386.80" font-size="7.50" text-anchor="start" font-weight="normal" fill="#1a1a1a" >PTFE/CB</text>
<text transform="translate(386.50,285.40) rotate(-90)" font-size="10.3" text-anchor="middle" fill="#1a1a1a" textLength="136.3" lengthAdjust="spacingAndGlyphs">Electrode conductivity (S cm<tspan dy="-4.2" font-size="6.4">&#8722;1</tspan><tspan dy="4.2">)</tspan></text>
<text x="354.50" y="213.60" font-size="12.50" text-anchor="start" font-weight="bold" fill="#000" >e</text>
</svg></body></html>
